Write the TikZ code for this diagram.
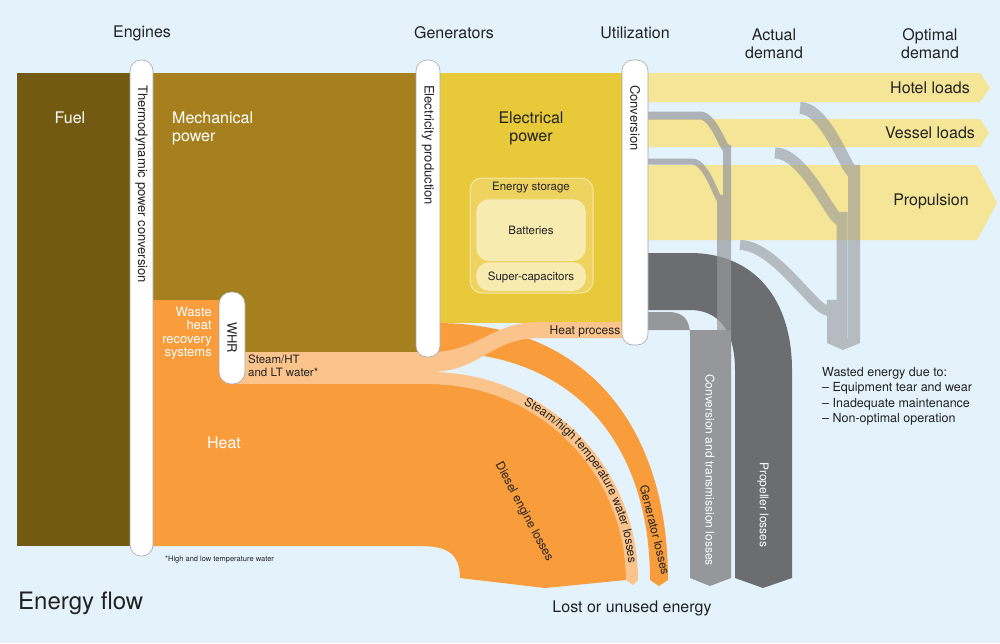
\documentclass[tikz,border=0pt]{standalone}
\usepackage{fontspec}
\setmainfont{TeX Gyre Heros}
\usetikzlibrary{decorations.text}
\definecolor{bg}{HTML}{E3F2FB}
\definecolor{fuel}{HTML}{735A12}
\definecolor{mech}{HTML}{A6801F}
\definecolor{heat}{HTML}{F89C3C}
\definecolor{steam}{HTML}{FBC48C}
\definecolor{elec}{HTML}{E8C93A}
\definecolor{pale}{HTML}{F5E596}
\definecolor{stor}{HTML}{F0D870}
\definecolor{batt}{HTML}{F7EBB0}
\definecolor{lgray}{HTML}{96979B}
\definecolor{dgray}{HTML}{6C6D71}
\definecolor{txt}{HTML}{222222}
\tikzset{
 pill/.style={fill=white,draw=gray!70,line width=0.6pt,rounded corners=11pt},
 lbl/.style={font=\fontsize{16}{18}\selectfont,text=txt,align=center,inner sep=0},
 wl/.style={font=\fontsize{16}{18}\selectfont,text=white,align=left,inner sep=0},
 small/.style={font=\fontsize{11.5}{13}\selectfont,text=txt,inner sep=0},
 vert/.style={rotate=-90,font=\fontsize{13}{15}\selectfont,text=txt,inner sep=0,anchor=west},
}
\begin{document}
\begin{tikzpicture}[x=1pt,y=-1pt]
\fill[bg] (0,0) rectangle (1000,643);
\useasboundingbox (0,0) rectangle (1000,643);
% fuel and mechanical
\fill[fuel] (17,73) rectangle (135,546);
\fill[mech] (153,73) -- (420,73) -- (420,352) -- (232,352) -- (232,300) -- (153,300) -- cycle;
% electrical and outputs
\fill[elec] (440,73) rectangle (626,323);
\fill[pale] (626,73) -- (980,73) -- (990,88) -- (980,102) -- (626,102) -- cycle;
\fill[pale] (626,119) -- (980,119) -- (989,133) -- (980,147) -- (626,147) -- cycle;
\fill[pale] (626,165) -- (977,165) -- (997,203) -- (977,240) -- (626,240) -- cycle;
% generator losses
\fill[heat] (436,323) .. controls (590,323) and (668,430) .. (668,580) -- (659,586) -- (650,580) .. controls (650,450) and (580,352) .. (436,352) -- cycle;
% heat
\fill[heat] (153,300) -- (232,300) -- (232,384) -- (430,384) arc[start angle=-90,end angle=0,radius=196] -- (545,588) -- (460,578) .. controls (460,552) and (445,546) .. (420,546) -- (153,546) -- cycle;
% steam band
\fill[steam] (232,352) -- (430,352) .. controls (480,352) and (490,322) .. (540,322) -- (626,322) -- (626,338) -- (540,338) .. controls (490,338) and (480,372) .. (430,372) -- cycle;
\fill[steam] (232,352) rectangle (432,384);
\fill[steam] (430,372) arc[start angle=-90,end angle=0,radius=208] -- (633,585) -- (626,580) arc[start angle=0,end angle=-90,radius=196] -- cycle;
% storage
\fill[stor!70!elec,draw=stor!60!white,line width=1pt,rounded corners=12pt] (470,178) rectangle (593,293);
\fill[batt,draw=stor!50!white,line width=1.5pt,rounded corners=12pt] (477,200) rectangle (585,260);
\fill[batt,draw=stor!50!white,line width=1.5pt,rounded corners=12pt] (477,263) rectangle (585,290);
% gray losses
\fill[dgray] (640,253) -- (690,253) .. controls (755,253) and (792,300) .. (792,370) -- (792,578) -- (763,588) -- (735,578) -- (735,370) .. controls (735,330) and (718,310) .. (690,310) -- (640,310) -- cycle;
\fill[lgray] (640,312) -- (668,312) .. controls (684,312) and (690,320) .. (690,336) -- (690,578) -- (710,586) -- (731,578) -- (731,330) -- (640,330) -- cycle;
\begin{scope}[transparency group,opacity=0.7]
\draw[lgray,line width=8pt] (640,115.5) -- (700,115.5) to[out=0,in=-90] (727,145) -- (727,335);
\draw[lgray,line width=6pt] (640,161.5) -- (692,161.5) to[out=0,in=-90] (720,195) -- (720,335);
\end{scope}
% wasted
\begin{scope}[transparency group,opacity=0.6]
\draw[lgray,line width=12pt] (800,108) to[out=0,in=-90] (854,165) -- (854,340);
\draw[lgray,line width=11pt] (775,153) to[out=0,in=-90] (842,212) -- (842,340);
\draw[lgray,line width=10pt] (740,245) to[out=0,in=-90] (832,300) -- (832,340);
\fill[lgray] (827,339) -- (860,339) -- (860,343) -- (843,350) -- (827,343) -- cycle;
\end{scope}
% pills
\node[pill,minimum width=23pt,minimum height=496pt,inner sep=0] (thermo) at (141.5,308) {};
\node[pill,minimum width=24pt,minimum height=297pt,inner sep=0] (gen) at (428,208.5) {};
\node[pill,minimum width=26pt,minimum height=285pt,inner sep=0] (conv) at (635,202.5) {};
\node[pill,minimum width=26pt,minimum height=92pt,inner sep=0,rounded corners=12pt] (whr) at (232,338) {};
\node[vert] (thermot) at (141.5,85) {Thermodynamic power conversion};
\node[vert] (gent) at (428,85) {Electricity production};
\node[vert] (convt) at (635,85) {Conversion};
\node[vert] (whrt) at (232,322) {WHR};
% headers
\node[lbl] (h1) at (142,33) {Engines};
\node[lbl] (h2) at (454,33) {Generators};
\node[lbl] (h3) at (635,33) {Utilization};
\node[lbl] (h4) at (774,44) {Actual\\demand};
\node[lbl] (h5) at (930,44) {Optimal\\demand};
% labels
\node[wl] (fuelt) at (70,118) {Fuel};
\node[wl,anchor=west] (mecht) at (172,128) {Mechanical\\power};
\node[lbl] (elect) at (531,128) {Electrical\\power};
\node[small] (storet) at (531,188) {Energy storage};
\node[small] (battt) at (531,230) {Batteries};
\node[small] (supt) at (531,277) {Super-capacitors};
\node[font=\fontsize{13}{13.5}\selectfont,text=white,align=right,inner sep=0,anchor=east] (wastet) at (212,333) {Waste\\heat\\recovery\\systems};
\node[font=\fontsize{11.5}{12.5}\selectfont,text=txt,align=left,inner sep=0,anchor=west] (steamt) at (248,366) {Steam/HT\\and LT water*};
\node[wl] (heatt) at (224,443) {Heat};
\node[small,font=\fontsize{12}{13}\selectfont] (hpt) at (585,331) {Heat process};
\path[decorate,decoration={text along path,text={|\fontsize{12}{13}\selectfont\color{txt}|Steam/high temperature water losses},text align=left}] (430,580) ++(-62:199) arc[start angle=-62,end angle=0,radius=199];
\node[small,font=\fontsize{12}{13}\selectfont,rotate=-62] (dielt) at (524,512) {Diesel engine losses};
\node[small,font=\fontsize{12}{13}\selectfont,rotate=-76] (genlt) at (655,530) {Generator losses};
\node[font=\fontsize{12}{13}\selectfont,text=white,rotate=-90,inner sep=0] (convlt) at (710,470) {Conversion and transmission losses};
\node[font=\fontsize{12}{13}\selectfont,text=white,rotate=-90,inner sep=0] (proplt) at (763,505) {Propeller losses};
\node[lbl] (hotelt) at (930,88) {Hotel loads};
\node[lbl] (vesselt) at (930,133) {Vessel loads};
\node[lbl] (propt) at (931,201) {Propulsion};
\node[font=\fontsize{12.5}{15.5}\selectfont,text=txt,align=left,anchor=north west,inner sep=0] (wastedt) at (822,367) {Wasted energy due to:\\– Equipment tear and wear\\– Inadequate maintenance\\– Non-optimal operation};
\node[font=\fontsize{7.5}{8}\selectfont,text=txt,anchor=west,inner sep=0] (foot) at (165,560) {*High and low temperature water};
\node[font=\fontsize{24}{26}\selectfont,text=txt,anchor=west,inner sep=0] (title) at (18,603) {Energy flow};
\node[lbl] (lost) at (632,608) {Lost or unused energy};
\end{tikzpicture}
\end{document}
